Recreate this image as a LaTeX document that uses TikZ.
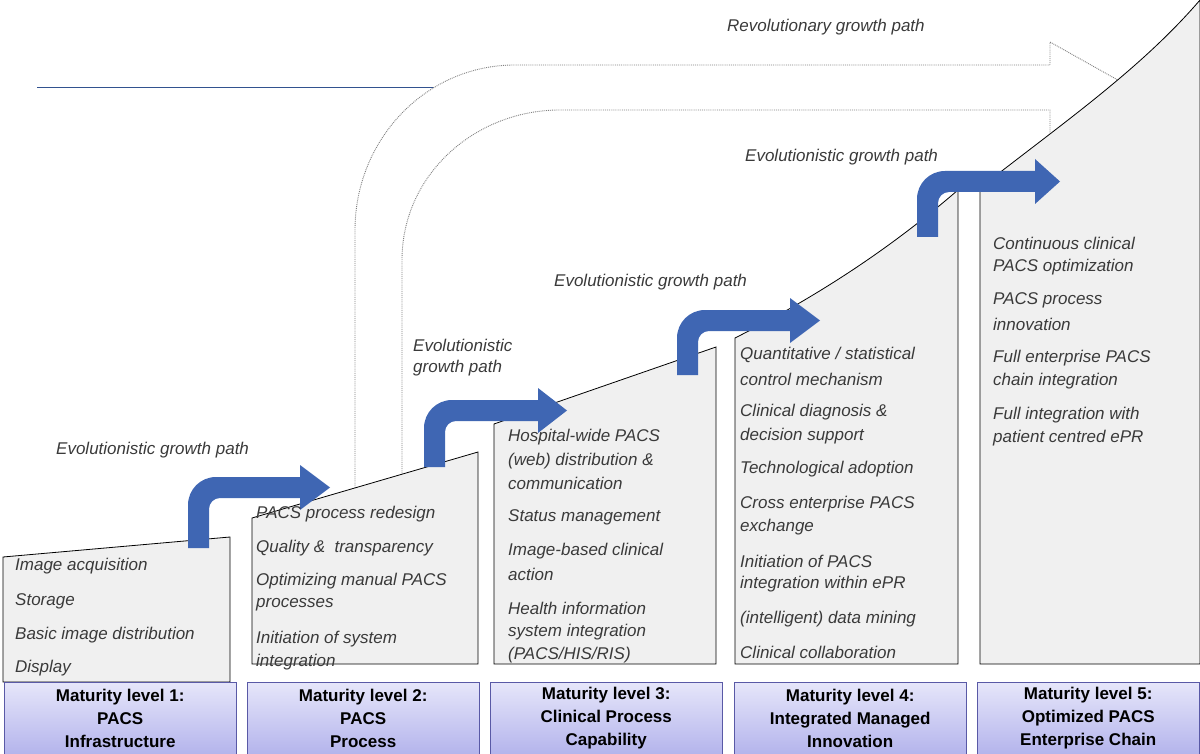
\documentclass[tikz,border=0pt]{standalone}
\usepackage{fontspec}
\setmainfont{Liberation Sans}
\definecolor{arrowblue}{HTML}{3F66B3}
\definecolor{boxgray}{HTML}{F0F0F0}
\definecolor{txt}{HTML}{3A3A3A}
\definecolor{lavtop}{HTML}{E6E6FA}
\definecolor{lavbot}{HTML}{B4B4EC}
\newcommand\bluearrow[5]{%
\pgfmathsetmacro\xa{#1+21}\pgfmathsetmacro\xb{#1+28}\pgfmathsetmacro\xc{#1+32}%
\pgfmathsetmacro\ya{#3+28}\pgfmathsetmacro\yb{#3+21}\pgfmathsetmacro\yc{#3+32}%
\pgfmathsetmacro\yd{#3-12}\pgfmathsetmacro\ye{#3+33}\pgfmathsetmacro\ym{#3+10.5}%
\fill[arrowblue] (#1,#2) -- (#1,\ya) to[out=90,in=180] (\xb,#3) -- (#4,#3) -- (#4,\yd) -- (#5,\ym) -- (#4,\ye) -- (#4,\yb) -- (\xc,\yb) to[out=180,in=90] (\xa,\yc) -- (\xa,#2) -- cycle;}
\begin{document}
\begin{tikzpicture}[x=1pt,y=-1pt,
  stepbox/.style={fill=boxgray,draw=black,line width=0.8pt},
  item/.style={anchor=west,font=\fontsize{17}{19}\selectfont\itshape,text=txt,inner sep=0pt},
  gpath/.style={anchor=west,font=\fontsize{17}{21}\selectfont\itshape,text=txt,inner sep=0pt,align=left},
  lvl/.style={draw=gray!70!blue,top color=lavtop,bottom color=lavbot,minimum width=232pt,minimum height=72pt,anchor=north west,inner sep=0pt,align=center,font=\fontsize{17}{23}\selectfont\bfseries}]
\useasboundingbox (0,0) rectangle (1200,754);
\draw[arrowblue!80!black,line width=1pt] (37,88) -- (457,88);
\filldraw[fill=white,draw=gray,densely dotted,line width=0.9pt] (355,490) -- (355,230) to[out=90,in=180] (515,65) -- (1050,65) -- (1050,42) -- (1132,88) -- (1050,135) -- (1050,110) -- (560,110) to[out=180,in=90] (402,260) -- (402,490) -- cycle;
\draw[stepbox] (3,682) -- (3,557) -- (230,537) -- (230,682) -- cycle;
\draw[stepbox] (252,664) -- (252,518) -- (478,452) -- (478,664) -- cycle;
\draw[stepbox] (494,664) -- (494,424) -- (716,347) -- (716,664) -- cycle;
\draw[stepbox] (735,664) -- (735,338) .. controls (830,290) and (900,240) .. (958,190) -- (958,664) -- cycle;
\draw[stepbox] (980,664) -- (980,188) .. controls (1060,125) and (1140,70) .. (1200,0) -- (1200,664) -- cycle;
\bluearrow{188}{548}{477}{300}{330}
\bluearrow{424}{467}{400}{538}{567}
\bluearrow{677}{375}{310}{790}{820}
\bluearrow{917}{237}{171}{1035}{1060}
\node[gpath] (rev) at (727,27) {Revolutionary growth path};
\node[gpath] (e4) at (745,157) {Evolutionistic growth path};
\node[gpath] (e3) at (554,282) {Evolutionistic growth path};
\node[gpath] (e2) at (413,358) {Evolutionistic\\growth path};
\node[gpath] (e1) at (56,450) {Evolutionistic growth path};
\node[item] (a1) at (15,566) {Image acquisition};
\node[item] (a2) at (15,601) {Storage};
\node[item] (a3) at (15,635) {Basic image distribution};
\node[item] (a4) at (15,668) {Display};
\node[item] (b1) at (256,514) {PACS process redesign};
\node[item] (b2) at (256,548) {Quality \&\ \ transparency};
\node[item] (b3) at (256,581) {Optimizing manual PACS};
\node[item] (b4) at (256,605) {processes};
\node[item] (b5) at (256,639) {Initiation of system};
\node[item] (b6) at (256,662) {integration};
\node[item] (c1) at (508,437) {Hospital-wide PACS};
\node[item] (c2) at (508,461) {(web) distribution \&};
\node[item] (c3) at (508,483) {communication};
\node[item] (c4) at (508,517) {Status management};
\node[item] (c5) at (508,551) {Image-based clinical};
\node[item] (c6) at (508,574) {action};
\node[item] (c7) at (508,608) {Health information};
\node[item] (c8) at (508,632) {system integration};
\node[item] (c9) at (508,655) {(PACS/HIS/RIS)};
\node[item] (d1) at (740,355) {Quantitative / statistical};
\node[item] (d2) at (740,379) {control mechanism};
\node[item] (d3) at (740,412) {Clinical diagnosis \&};
\node[item] (d4) at (740,436) {decision support};
\node[item] (d5) at (740,469) {Technological adoption};
\node[item] (d6) at (740,504) {Cross enterprise PACS};
\node[item] (d7) at (740,527) {exchange};
\node[item] (d8) at (740,561) {Initiation of PACS};
\node[item] (d9) at (740,584) {integration within ePR};
\node[item] (d10) at (740,619) {(intelligent) data mining};
\node[item] (d11) at (740,652) {Clinical collaboration};
\node[item] (f1) at (993,243) {Continuous clinical};
\node[item] (f2) at (993,267) {PACS optimization};
\node[item] (f3) at (993,300) {PACS process};
\node[item] (f4) at (993,324) {innovation};
\node[item] (f5) at (993,358) {Full enterprise PACS};
\node[item] (f6) at (993,381) {chain integration};
\node[item] (f7) at (993,415) {Full integration with};
\node[item] (f8) at (993,438) {patient centred ePR};
\node[lvl] (m1) at (4,682) {Maturity level 1:\\PACS\\Infrastructure};
\node[lvl] (m2) at (247,682) {Maturity level 2:\\PACS\\Process};
\node[lvl] (m3) at (490,682) {Maturity level 3:\\Clinical Process\\Capability};
\node[lvl] (m4) at (734,682) {Maturity level 4:\\Integrated Managed\\Innovation};
\node[lvl,minimum width=222pt] (m5) at (977,682) {Maturity level 5:\\Optimized PACS\\Enterprise Chain};
\end{tikzpicture}
\end{document}
